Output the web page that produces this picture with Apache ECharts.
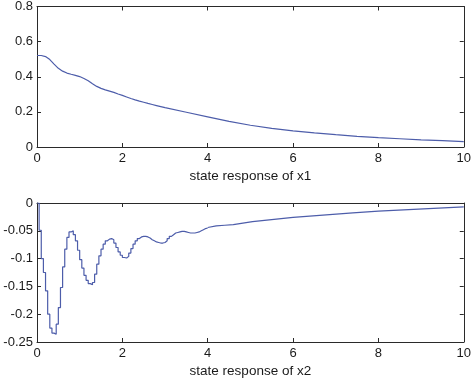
<!DOCTYPE html>
<html>
<head>
<meta charset="utf-8">
<script src="https://cdn.jsdelivr.net/npm/echarts@6/dist/echarts.min.js"></script>
<style>
html,body{margin:0;padding:0;background:#fff;}
#c{width:474px;height:379px;}
</style>
</head>
<body>
<div id="c"></div>
<script>
// ---- data ----
const xTicks = [0, 2, 4, 6, 8, 10];
const x1Title = 'state response of x1';
const x2Title = 'state response of x2';

const x1Time = [0,0.1,0.2,0.3,0.4,0.5,0.6,0.7,0.8,0.9,1.0,1.1,1.2,1.3,1.4,1.5,1.6,1.7,1.8,1.9,2.0,2.1,2.2,2.3,2.4,2.5,2.6,2.7,2.8,2.9,3.0,
  3.5,4.0,4.5,5.0,5.5,6.0,6.5,7.0,7.5,8.0,8.5,9.0,9.5,10.0];
const x1Value = [0.521,0.521,0.515,0.498,0.472,0.448,0.432,0.421,0.414,0.408,0.401,0.390,0.377,0.360,0.345,0.334,0.325,0.318,0.311,0.302,0.294,0.285,0.276,0.268,0.261,0.255,0.248,0.242,0.236,0.230,0.224,
  0.198,0.172,0.146,0.124,0.106,0.092,0.080,0.070,0.061,0.053,0.047,0.041,0.036,0.031];

const x2StepTime = [0,0.05,0.1,0.15,0.2,0.25,0.3,0.35,0.4,0.45,0.5,0.55,0.6,0.65,0.7,0.75,0.8,0.85,0.9,0.95,
  1.0,1.05,1.1,1.15,1.2,1.25,1.3,1.35,1.4,1.45,1.5,1.55,1.6,1.65,1.7,1.75,1.8,1.85,1.9,1.95,
  2.0,2.05,2.1,2.15,2.2,2.25,2.3,2.35,2.4,2.45,2.5,2.55,2.6,2.65,2.7,2.75,2.8,2.85,2.9,2.95,
  3.0,3.05,3.1,3.15,3.2,3.25,3.3,3.35,3.4,3.45,3.5,3.55,3.6,3.65,3.7,3.75,3.8,3.85,3.9,3.95,4.0];
const x2StepValue = [0,-0.049,-0.100,-0.125,-0.158,-0.200,-0.225,-0.234,-0.236,-0.218,-0.188,-0.152,-0.115,-0.083,-0.062,-0.052,-0.050,-0.057,-0.068,-0.085,
  -0.102,-0.117,-0.130,-0.139,-0.145,-0.147,-0.143,-0.128,-0.110,-0.095,-0.083,-0.074,-0.068,-0.065,-0.064,-0.066,-0.072,-0.080,-0.088,-0.094,
  -0.098,-0.099,-0.096,-0.090,-0.082,-0.074,-0.068,-0.064,-0.061,-0.060,-0.060,-0.061,-0.063,-0.066,-0.068,-0.070,-0.071,-0.072,-0.072,-0.071,
  -0.068,-0.064,-0.060,-0.057,-0.054,-0.053,-0.052,-0.051,-0.051,-0.052,-0.053,-0.054,-0.054,-0.054,-0.053,-0.052,-0.050,-0.048,-0.046,-0.045,-0.044];
const x2TailTime = [4.0,4.2,4.4,4.6,5.05,6.0,7.4,8.0,10.0];
const x2TailValue = [-0.044,-0.041,-0.040,-0.039,-0.0335,-0.026,-0.0177,-0.0147,-0.007];

// ---- chart ----
const pairs = (t, v) => t.map((x, i) => [x, v[i]]);
const lineColor = '#4d5daa';
const axisColor = '#2a2a2a';
const font = 'Liberation Sans, Arial, sans-serif';

function xAx(grid, pos, name) {
  return {
    type: 'value', gridIndex: grid, position: pos, min: 0, max: 10, interval: 2,
    axisLine: {show: true, onZero: false, lineStyle: {color: axisColor, width: 1}},
    axisTick: {show: true, inside: true, length: 4, lineStyle: {color: axisColor}},
    axisLabel: {show: pos === 'bottom', color: '#1a1a1a', fontSize: 13, fontFamily: font, margin: 5},
    splitLine: {show: false},
    name: pos === 'bottom' ? name : '', nameLocation: 'middle', nameGap: 22,
    nameTextStyle: {color: '#1a1a1a', fontSize: 13.5, fontFamily: font}
  };
}
function yAx(grid, pos, min, max, interval) {
  return {
    type: 'value', gridIndex: grid, position: pos, min: min, max: max, interval: interval,
    axisLine: {show: true, onZero: false, lineStyle: {color: axisColor, width: 1}},
    axisTick: {show: true, inside: true, length: 4, lineStyle: {color: axisColor}},
    axisLabel: {show: pos === 'left', color: '#1a1a1a', fontSize: 13, fontFamily: font, margin: 4},
    splitLine: {show: false}
  };
}

const chart = echarts.init(document.getElementById('c'), null, {renderer: 'canvas'});
chart.setOption({
  animation: false,
  backgroundColor: '#fff',
  grid: [
    {left: 37, top: 6, width: 430, height: 141},
    {left: 37, top: 203, width: 430, height: 141}
  ],
  xAxis: [xAx(0, 'bottom', x1Title), xAx(0, 'top'), xAx(1, 'bottom', x2Title), xAx(1, 'top')],
  yAxis: [yAx(0, 'left', 0, 0.8, 0.2), yAx(0, 'right', 0, 0.8, 0.2),
          yAx(1, 'left', -0.25, 0, 0.05), yAx(1, 'right', -0.25, 0, 0.05)],
  series: [
    {type: 'line', xAxisIndex: 0, yAxisIndex: 0, showSymbol: false,
     lineStyle: {color: lineColor, width: 1.2}, data: pairs(x1Time, x1Value)},
    {type: 'line', xAxisIndex: 2, yAxisIndex: 2, step: 'end', showSymbol: false,
     lineStyle: {color: lineColor, width: 1.2}, data: pairs(x2StepTime, x2StepValue)},
    {type: 'line', xAxisIndex: 2, yAxisIndex: 2, showSymbol: false,
     lineStyle: {color: lineColor, width: 1.2}, data: pairs(x2TailTime, x2TailValue)}
  ]
});
</script>
</body>
</html>
